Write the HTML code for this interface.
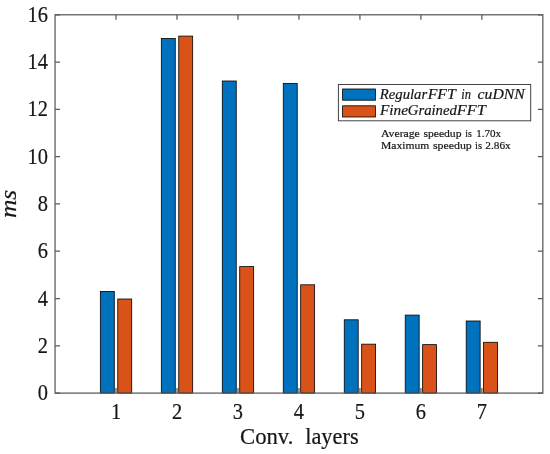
<!DOCTYPE html><html><head><meta charset="utf-8"><style>html,body{margin:0;padding:0;background:#fff}svg{display:block}text{font-family:"Liberation Serif",serif;fill:#161616;stroke:#161616;stroke-width:0.2}</style></head><body>
<svg width="550" height="454" viewBox="0 0 550 454">
<rect width="550" height="454" fill="#fff"/>
<path d="M116.03 393.1 v-5.0 M116.03 14.8 v5.0 M177.00 393.1 v-5.0 M177.00 14.8 v5.0 M237.98 393.1 v-5.0 M237.98 14.8 v5.0 M298.95 393.1 v-5.0 M298.95 14.8 v5.0 M359.93 393.1 v-5.0 M359.93 14.8 v5.0 M420.90 393.1 v-5.0 M420.90 14.8 v5.0 M481.88 393.1 v-5.0 M481.88 14.8 v5.0 M55.05 393.10 h5.0 M542.85 393.10 h-5.0 M55.05 345.81 h5.0 M542.85 345.81 h-5.0 M55.05 298.53 h5.0 M542.85 298.53 h-5.0 M55.05 251.24 h5.0 M542.85 251.24 h-5.0 M55.05 203.95 h5.0 M542.85 203.95 h-5.0 M55.05 156.66 h5.0 M542.85 156.66 h-5.0 M55.05 109.38 h5.0 M542.85 109.38 h-5.0 M55.05 62.09 h5.0 M542.85 62.09 h-5.0 M55.05 14.80 h5.0 M542.85 14.80 h-5.0" stroke="#5a5a5a" stroke-width="1.25" fill="none"/>
<rect x="100.35" y="291.43" width="13.94" height="101.67" fill="#0072BD" stroke="#000" stroke-width="0.8"/>
<rect x="117.77" y="299.00" width="13.94" height="94.10" fill="#D95319" stroke="#000" stroke-width="0.8"/>
<rect x="161.32" y="38.44" width="13.94" height="354.66" fill="#0072BD" stroke="#000" stroke-width="0.8"/>
<rect x="178.74" y="36.08" width="13.94" height="357.02" fill="#D95319" stroke="#000" stroke-width="0.8"/>
<rect x="222.30" y="81.00" width="13.94" height="312.10" fill="#0072BD" stroke="#000" stroke-width="0.8"/>
<rect x="239.72" y="266.61" width="13.94" height="126.49" fill="#D95319" stroke="#000" stroke-width="0.8"/>
<rect x="283.27" y="83.37" width="13.94" height="309.73" fill="#0072BD" stroke="#000" stroke-width="0.8"/>
<rect x="300.69" y="284.81" width="13.94" height="108.29" fill="#D95319" stroke="#000" stroke-width="0.8"/>
<rect x="344.25" y="319.80" width="13.94" height="73.30" fill="#0072BD" stroke="#000" stroke-width="0.8"/>
<rect x="361.67" y="344.16" width="13.94" height="48.94" fill="#D95319" stroke="#000" stroke-width="0.8"/>
<rect x="405.22" y="315.08" width="13.94" height="78.02" fill="#0072BD" stroke="#000" stroke-width="0.8"/>
<rect x="422.64" y="344.63" width="13.94" height="48.47" fill="#D95319" stroke="#000" stroke-width="0.8"/>
<rect x="466.20" y="320.99" width="13.94" height="72.11" fill="#0072BD" stroke="#000" stroke-width="0.8"/>
<rect x="483.62" y="342.27" width="13.94" height="50.83" fill="#D95319" stroke="#000" stroke-width="0.8"/>
<rect x="55.05" y="14.8" width="487.80" height="378.30" fill="none" stroke="#5a5a5a" stroke-width="1.25"/>
<text transform="translate(116.03,419.3) scale(0.95,1.03)" font-size="21.5" text-anchor="middle">1</text>
<text transform="translate(177.00,419.3) scale(0.95,1.03)" font-size="21.5" text-anchor="middle">2</text>
<text transform="translate(237.98,419.3) scale(0.95,1.03)" font-size="21.5" text-anchor="middle">3</text>
<text transform="translate(298.95,419.3) scale(0.95,1.03)" font-size="21.5" text-anchor="middle">4</text>
<text transform="translate(359.93,419.3) scale(0.95,1.03)" font-size="21.5" text-anchor="middle">5</text>
<text transform="translate(420.90,419.3) scale(0.95,1.03)" font-size="21.5" text-anchor="middle">6</text>
<text transform="translate(481.88,419.3) scale(0.95,1.03)" font-size="21.5" text-anchor="middle">7</text>
<text transform="translate(48,400.20) scale(0.95,1.03)" font-size="21.5" text-anchor="end">0</text>
<text transform="translate(48,352.91) scale(0.95,1.03)" font-size="21.5" text-anchor="end">2</text>
<text transform="translate(48,305.63) scale(0.95,1.03)" font-size="21.5" text-anchor="end">4</text>
<text transform="translate(48,258.34) scale(0.95,1.03)" font-size="21.5" text-anchor="end">6</text>
<text transform="translate(48,211.05) scale(0.95,1.03)" font-size="21.5" text-anchor="end">8</text>
<text transform="translate(48,163.76) scale(0.95,1.03)" font-size="21.5" text-anchor="end">10</text>
<text transform="translate(48,116.47) scale(0.95,1.03)" font-size="21.5" text-anchor="end">12</text>
<text transform="translate(48,69.19) scale(0.95,1.03)" font-size="21.5" text-anchor="end">14</text>
<text transform="translate(48,21.90) scale(0.95,1.03)" font-size="21.5" text-anchor="end">16</text>
<text x="240.0" y="444.1" font-size="23" textLength="53.4" lengthAdjust="spacingAndGlyphs" stroke-width="0.3">Conv.</text>
<text x="305.2" y="444.1" font-size="23" textLength="53.4" lengthAdjust="spacingAndGlyphs" stroke-width="0.3">layers</text>
<text transform="translate(16.3,204) rotate(-90)" font-size="24" font-style="italic" stroke-width="0.4" text-anchor="middle" textLength="28.2" lengthAdjust="spacingAndGlyphs">ms</text>
<rect x="338.4" y="84.5" width="192.3" height="36.3" fill="#fff" stroke="#3a3a3a" stroke-width="0.95"/>
<rect x="342.6" y="89.0" width="32.8" height="11.2" fill="#0072BD" stroke="#000" stroke-width="0.8"/>
<rect x="342.6" y="105.8" width="32.8" height="11.2" fill="#D95319" stroke="#000" stroke-width="0.8"/>
<text x="379.8" y="98.8" font-size="14.8" textLength="47.4" lengthAdjust="spacingAndGlyphs" font-style="italic" stroke="#161616" stroke-width="0.4">Regular</text>
<text x="427.7" y="98.8" font-size="14.8" textLength="28.1" lengthAdjust="spacingAndGlyphs" font-style="italic" stroke="#161616" stroke-width="0.4">FFT</text>
<text x="461.3" y="98.8" font-size="14.8" textLength="9.7" lengthAdjust="spacingAndGlyphs" font-style="italic" stroke="#161616" stroke-width="0.4">in</text>
<text x="477.6" y="98.8" font-size="14.8" textLength="47.2" lengthAdjust="spacingAndGlyphs" font-style="italic" stroke="#161616" stroke-width="0.4">cuDNN</text>
<text x="380.0" y="115.1" font-size="14.8" textLength="28.0" lengthAdjust="spacingAndGlyphs" font-style="italic" stroke="#161616" stroke-width="0.4">Fine</text>
<text x="407.8" y="115.1" font-size="14.8" textLength="49.0" lengthAdjust="spacingAndGlyphs" font-style="italic" stroke="#161616" stroke-width="0.4">Grained</text>
<text x="456.8" y="115.1" font-size="14.8" textLength="29.0" lengthAdjust="spacingAndGlyphs" font-style="italic" stroke="#161616" stroke-width="0.4">FFT</text>
<text x="381.0" y="136.7" font-size="11.3" textLength="38.8" lengthAdjust="spacingAndGlyphs" stroke-width="0.3">Average</text>
<text x="423.4" y="136.7" font-size="11.3" textLength="38.1" lengthAdjust="spacingAndGlyphs" stroke-width="0.3">speedup</text>
<text x="465.3" y="136.7" font-size="11.3" textLength="6.6" lengthAdjust="spacingAndGlyphs" stroke-width="0.3">is</text>
<text x="476.2" y="136.7" font-size="11.3" textLength="24.8" lengthAdjust="spacingAndGlyphs" stroke-width="0.3">1.70x</text>
<text x="381.0" y="149.0" font-size="11.3" textLength="48.4" lengthAdjust="spacingAndGlyphs" stroke-width="0.3">Maximum</text>
<text x="433.0" y="149.0" font-size="11.3" textLength="38.8" lengthAdjust="spacingAndGlyphs" stroke-width="0.3">speedup</text>
<text x="475.1" y="149.0" font-size="11.3" textLength="7.0" lengthAdjust="spacingAndGlyphs" stroke-width="0.3">is</text>
<text x="485.3" y="149.0" font-size="11.3" textLength="25.4" lengthAdjust="spacingAndGlyphs" stroke-width="0.3">2.86x</text>
</svg></body></html>
